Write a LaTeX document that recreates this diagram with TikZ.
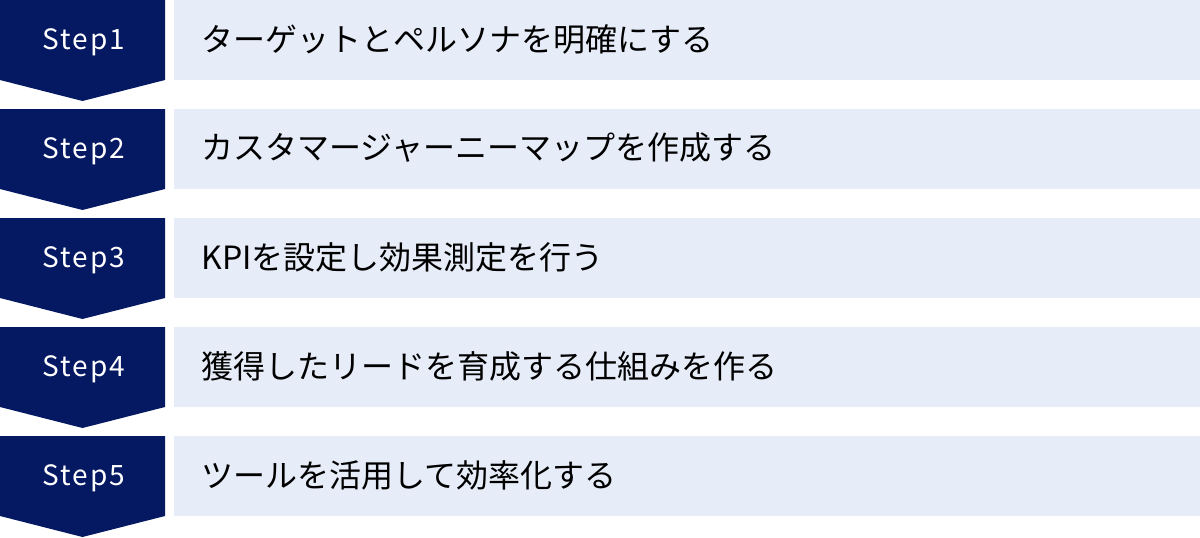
\documentclass[tikz,border=0pt]{standalone}
\usepackage{fontspec}
\setmainfont{Noto Sans CJK JP}
\newfontfamily\stepfont[LetterSpace=7]{Noto Sans CJK JP}
\usetikzlibrary{positioning}
\definecolor{stepnavy}{HTML}{051862}
\definecolor{taskbg}{HTML}{E6ECF8}

\begin{document}
\begin{tikzpicture}[x=1pt,y=-1pt,
    steplabel/.style={text=white, font=\stepfont\fontsize{28}{32}\selectfont},
    tasklabel/.style={anchor=west, text=black, font=\fontsize{32}{36}\selectfont}]
    \useasboundingbox (0,0) rectangle (1200,538);

    % Steps and tasks
    \foreach \n/\task in {1/ターゲットとペルソナを明確にする,
                          2/カスタマージャーニーマップを作成する,
                          3/KPIを設定し効果測定を行う,
                          4/獲得したリードを育成する仕組みを作る,
                          5/ツールを活用して効率化する} {
        \pgfmathsetmacro{\rowtop}{(\n-1)*109}
        \fill[stepnavy] (0,\rowtop) -- (165,\rowtop) -- (165,\rowtop+80)
            -- (82.5,\rowtop+101) -- (0,\rowtop+80) -- cycle;
        \fill[taskbg] (174,\rowtop) rectangle (1200,\rowtop+80);
        \node[steplabel] (step\n) at (84,\rowtop+42) {Step\n};
        \node[tasklabel] (task\n) at (198,\rowtop+39) {\task};
    }
\end{tikzpicture}
\end{document}
